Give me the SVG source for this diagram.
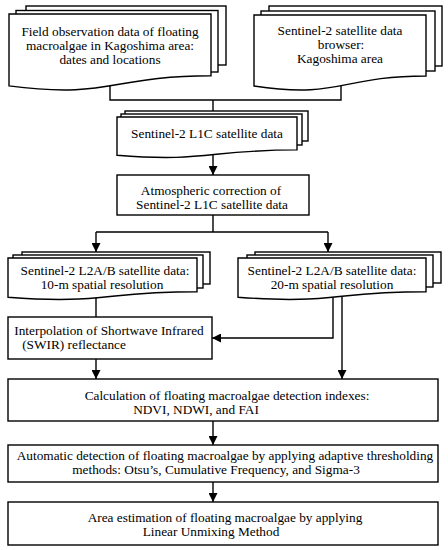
<svg xmlns="http://www.w3.org/2000/svg" width="448" height="550" viewBox="0 0 448 550">
<defs>
<marker id="ah" viewBox="0 0 10 10" refX="10" refY="5" markerWidth="9" markerHeight="9" markerUnits="userSpaceOnUse" orient="auto"><path d="M0,0 L10,5 L0,10 Z" fill="#000"/></marker>
<style>
.s{fill:#fff;stroke:#000;stroke-width:1.4}
.c{fill:none;stroke:#000;stroke-width:1.4}
.a{marker-end:url(#ah)}
text{font-family:"Liberation Serif","DejaVu Serif",serif;font-size:13.3px;fill:#000;text-anchor:middle}
</style>
</defs>
<rect width="448" height="550" fill="#fff"/>
<g id="connectors">
<path class="c" d="M110,85 V100 H341 V80"/>
<path class="c" d="M213,100 V111"/>
<path class="c a" d="M213,155 V175"/>
<path class="c" d="M213,215 V232 M96,232 H328"/>
<path class="c a" d="M96,232 V252"/>
<path class="c a" d="M328,232 V252"/>
<path class="c" d="M96,296 V317"/>
<path class="c a" d="M333,296 V338 H212"/>
<path class="c a" d="M342,296 V379"/>
<path class="c a" d="M96,359 V379"/>
<path class="c a" d="M213,421 V445"/>
<path class="c a" d="M213,482 V502"/>
</g>
<g id="field-observation">
<rect class="s" x="26" y="6" width="200" height="59"/>
<rect class="s" x="16" y="10.5" width="202" height="61.5"/>
<path class="s" d="M9,14 H211 V75.8 C110,75.8 110,99.3 9,85.9 Z"/>
<text x="110" y="35.5">Field observation data of floating</text>
<text x="110" y="49.5">macroalgae in Kagoshima area:</text>
<text x="110" y="63.5">dates and locations</text>
</g>
<g id="sentinel-browser">
<rect class="s" x="269" y="6" width="173" height="60"/>
<rect class="s" x="261" y="11" width="174" height="60"/>
<path class="s" d="M254,15 H426 V76 C340,76 340,99.2 254,86 Z"/>
<text x="340" y="35">Sentinel-2 satellite data</text>
<text x="341" y="49">browser:</text>
<text x="340" y="63">Kagoshima area</text>
</g>
<g id="l1c">
<rect class="s" x="125" y="111" width="183" height="30"/>
<rect class="s" x="121" y="114" width="181" height="31"/>
<path class="s" d="M117,117 H297 V149.9 C207,149.9 207,162.4 117,155.3 Z"/>
<text x="207" y="138">Sentinel-2 L1C satellite data</text>
</g>
<g id="atmospheric">
<rect class="s" x="117" y="175" width="192" height="40"/>
<text x="211" y="194.5">Atmospheric correction of</text>
<text x="212" y="208.5">Sentinel-2 L1C satellite data</text>
</g>
<g id="l2a-10m">
<rect class="s" x="22" y="252" width="188" height="32"/>
<rect class="s" x="13" y="255" width="190" height="33"/>
<path class="s" d="M8,258 H197 V291.7 C102.5,291.7 102.5,304.5 8,297.2 Z"/>
<text x="105" y="274.5">Sentinel-2 L2A/B satellite data:</text>
<text x="102" y="288.5">10-m spatial resolution</text>
</g>
<g id="l2a-20m">
<rect class="s" x="255" y="252" width="186" height="31"/>
<rect class="s" x="247" y="255" width="186" height="32"/>
<path class="s" d="M238,258 H426 V291.7 C332,291.7 332,304.5 238,297.2 Z"/>
<text x="332" y="274.5">Sentinel-2 L2A/B satellite data:</text>
<text x="332" y="288.5">20-m spatial resolution</text>
</g>
<g id="interpolation">
<rect class="s" x="8" y="317" width="204" height="42"/>
<text x="109" y="335">Interpolation of Shortwave Infrared</text>
<text x="74" y="349">(SWIR) reflectance</text>
</g>
<g id="calculation">
<rect class="s" x="8" y="379" width="430" height="42"/>
<text x="227" y="399.5">Calculation of floating macroalgae detection indexes:</text>
<text x="196" y="413.5">NDVI, NDWI, and FAI</text>
</g>
<g id="detection">
<rect class="s" x="8" y="445" width="430" height="37"/>
<text x="225" y="460">Automatic detection of floating macroalgae by applying adaptive thresholding</text>
<text x="216" y="474">methods: Otsu’s, Cumulative Frequency, and Sigma-3</text>
</g>
<g id="area">
<rect class="s" x="8" y="502" width="430" height="43"/>
<text x="225" y="522">Area estimation of floating macroalgae by applying</text>
<text x="211" y="536">Linear Unmixing Method</text>
</g>
</svg>
